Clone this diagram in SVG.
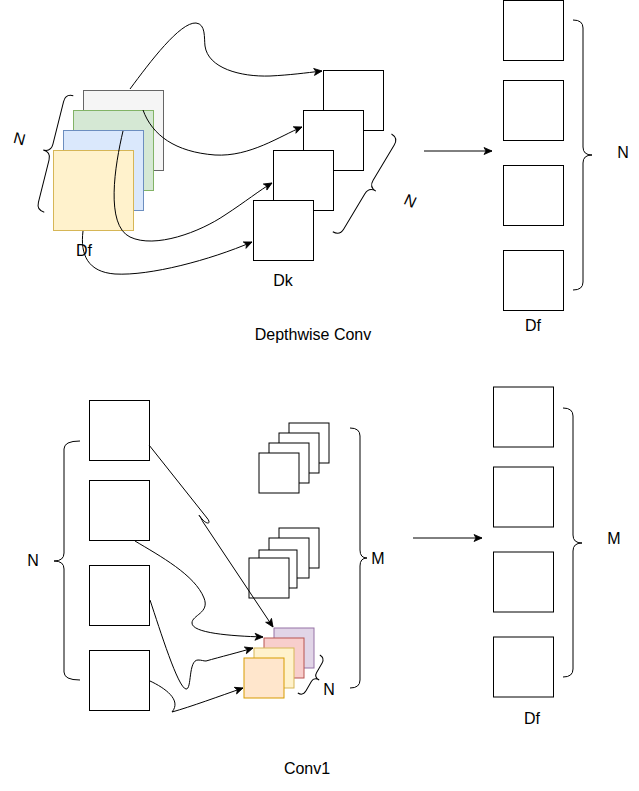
<svg xmlns="http://www.w3.org/2000/svg" width="639" height="791" viewBox="0 0 639 791">
<defs>
<marker id="arr" viewBox="0 0 10 10" refX="9" refY="5" markerWidth="10" markerHeight="10" markerUnits="userSpaceOnUse" orient="auto">
<path d="M1,1.5 L9,5 L1,8.5 L3,5 Z" fill="#000" stroke="#000" stroke-width="0.8"/>
</marker>
<style>
.box{fill:#fff;stroke:#000;stroke-width:1}
.gray{fill:#f5f5f5;stroke:#666666}
.green{fill:#d5e8d4;stroke:#82b366}
.blue{fill:#dae8fc;stroke:#6c8ebf}
.yellow{fill:#fff2cc;stroke:#d6b656}
.purple{fill:#e1d5e7;stroke:#9673a6}
.red{fill:#f8cecc;stroke:#b85450}
.orange{fill:#ffe6cc;stroke:#d79b00}
.brace{fill:none;stroke:#000;stroke-width:1}
.edge{fill:none;stroke:#000;stroke-width:1;marker-end:url(#arr)}
text{font-family:"Liberation Sans",Arial,sans-serif;font-size:16px;fill:#000;text-anchor:middle}
</style>
</defs>
<rect width="639" height="791" fill="#fff"/>

<!-- Top section: input stack -->
<g id="input-stack">
<rect class="gray" x="83.5" y="90.5" width="80" height="80"/>
<rect class="green" x="73.5" y="110.5" width="80" height="80"/>
<rect class="blue" x="63.5" y="130.5" width="80" height="80"/>
<rect class="yellow" x="53.5" y="150.5" width="80" height="80"/>
</g>
<g id="brace-top-left">
<path class="brace" transform="translate(51,152) rotate(14)" d="M8,-60 Q0,-60 0,-52 L0,-8 Q0,0 -8,0 Q0,0 0,8 L0,52 Q0,60 8,60"/>
<text transform="translate(18,144) rotate(15)" x="0" y="0">N</text>
</g>
<g id="label-df-top"><text x="84" y="256">Df</text></g>

<!-- Dk stack -->
<g id="dk-stack">
<rect class="box" x="323.5" y="70.5" width="60" height="60"/>
<rect class="box" x="303.5" y="110.5" width="60" height="60"/>
<rect class="box" x="273.5" y="150.5" width="60" height="60"/>
<rect class="box" x="253.5" y="200.5" width="60" height="60"/>
</g>
<g id="label-dk"><text x="283" y="286">Dk</text></g>
<g id="brace-dk">
<path class="brace" transform="translate(369,187) rotate(31)" d="M-8,-57 Q0,-57 0,-49 L0,-8 Q0,0 8,0 Q0,0 0,8 L0,49 Q0,57 -8,57"/>
<text transform="translate(408,206) rotate(25)" x="0" y="0">N</text>
</g>

<!-- Top output -->
<g id="out-top">
<rect class="box" x="503.5" y="0.5" width="60" height="60"/>
<rect class="box" x="503.5" y="80.5" width="60" height="60"/>
<rect class="box" x="503.5" y="165.5" width="60" height="60"/>
<rect class="box" x="503.5" y="250.5" width="60" height="60"/>
</g>
<g id="brace-top-right">
<path class="brace" d="M573,20 Q583,20 583,28 L583,147 Q583,155 592,155 Q583,155 583,163 L583,282 Q583,290 573,290"/>
<text x="623" y="158">N</text>
</g>
<g id="label-df-right-top"><text x="533" y="331">Df</text></g>
<g id="label-depthwise"><text x="313" y="340">Depthwise Conv</text></g>

<!-- Bottom section: input boxes -->
<g id="in-bottom">
<rect class="box" x="89.5" y="400.5" width="60" height="60"/>
<rect class="box" x="89.5" y="480.5" width="60" height="60"/>
<rect class="box" x="89.5" y="565.5" width="60" height="60"/>
<rect class="box" x="89.5" y="650.5" width="60" height="60"/>
</g>
<g id="brace-bottom-left">
<path class="brace" d="M80,441 Q64,441 64,449 L64,553 Q64,561 54,561 Q64,561 64,569 L64,672 Q64,680 80,680"/>
<text x="33" y="566">N</text>
</g>

<!-- kernel stacks -->
<g id="kernel-stack-1">
<rect class="box" x="289" y="423" width="40" height="40"/>
<rect class="box" x="279" y="433" width="40" height="40"/>
<rect class="box" x="269" y="443" width="40" height="40"/>
<rect class="box" x="259" y="453" width="40" height="40"/>
</g>
<g id="kernel-stack-2">
<rect class="box" x="279" y="528" width="40" height="40"/>
<rect class="box" x="269" y="538" width="40" height="40"/>
<rect class="box" x="259" y="550" width="38" height="38"/>
<rect class="box" x="249" y="558" width="40" height="40"/>
</g>
<g id="kernel-stack-color">
<rect class="purple" x="274" y="628" width="40" height="40"/>
<rect class="red" x="264" y="638" width="40" height="40"/>
<rect class="yellow" x="254" y="648" width="40" height="40"/>
<rect class="orange" x="244" y="658" width="40" height="40"/>
</g>
<g id="brace-small">
<path class="brace" transform="translate(314,677) rotate(30)" d="M-6,-22 Q0,-22 0,-16 L0,-5 Q0,0 6,0 Q0,0 0,5 L0,16 Q0,22 -6,22"/>
<text x="329" y="695">N</text>
</g>
<g id="brace-m-mid">
<path class="brace" d="M350,428 Q360,428 360,436 L360,550 Q360,558 367,558 Q360,558 360,566 L360,680 Q360,688 350,688"/>
<text x="378" y="564">M</text>
</g>

<!-- Bottom output -->
<g id="out-bottom">
<rect class="box" x="493.5" y="387" width="60" height="60"/>
<rect class="box" x="493.5" y="467" width="60" height="60"/>
<rect class="box" x="493.5" y="552" width="60" height="60"/>
<rect class="box" x="493.5" y="637" width="60" height="60"/>
</g>
<g id="brace-m-right">
<path class="brace" d="M563,408 Q573,408 573,416 L573,535 Q573,543 582,543 Q573,543 573,551 L573,669 Q573,677 563,677"/>
<text x="614" y="544">M</text>
</g>
<g id="label-df-bottom"><text x="532" y="724">Df</text></g>
<g id="label-conv1"><text x="307" y="774">Conv1</text></g>

<!-- Connectors -->
<g id="connectors">
<path class="edge" d="M130,89 C150,62 180,22 196,23 C206,24 204,38 205,46 C208,68 240,77 270,76 C290,75 305,73 322,71"/>
<path class="edge" d="M143,110 C152,135 175,152 215,155 C250,157 280,136 302,127"/>
<path class="edge" d="M123,131 C115,165 105,225 130,237 C155,249 200,232 225,215 C245,202 260,190 272,183"/>
<path class="edge" d="M83,231 C80,255 88,272 115,274 C150,276 210,260 252,242"/>
<path class="edge" d="M424,151 L492,151"/>

<path class="edge" d="M149,445 L207,518 C212,524 207,525 202,519 C197,513 199,514 203,522 L273,627"/>
<path class="edge" d="M135,541 C160,556 195,575 204,598 C210,613 192,615 192,623 C192,633 230,636 263,637"/>
<path class="edge" d="M150,600 C160,630 178,688 186,689 C192,690 188,660 198,660 C202,660 203,661 206,661 C220,657 240,652 253,648"/>
<path class="edge" d="M150,681 C165,688 182,700 172,712 C190,707 220,696 243,688"/>
<path class="edge" d="M413,538 L482,538"/>
</g>
</svg>
